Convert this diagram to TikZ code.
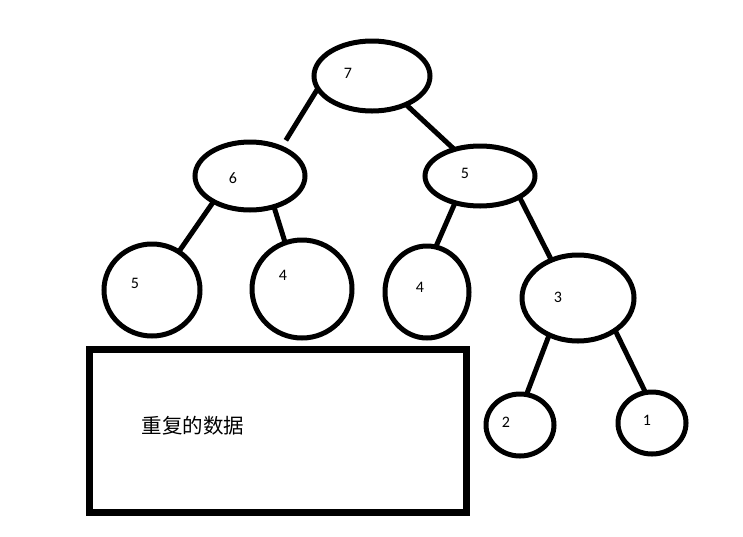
\documentclass[tikz,border=0pt]{standalone}
\usepackage{fontspec}
\setmainfont{Carlito}
\newfontfamily\cjk{Noto Sans CJK SC}
\usetikzlibrary{shapes.geometric}
\begin{document}
\begin{tikzpicture}[x=1pt,y=-1pt,
  oval/.style={ellipse,draw=black,line width=5pt,inner sep=0pt,outer sep=0pt},
  edge/.style={draw=black,line width=5pt},
  num/.style={inner sep=0pt,font=\fontsize{16}{16}\selectfont}]
\useasboundingbox[fill=white] (0,0) rectangle (743,536);
% ellipses
\node[oval,minimum width=116pt,minimum height=70pt] (n7) at (372,76) {};
\node[oval,minimum width=110pt,minimum height=68pt] (n6) at (250,176) {};
\node[oval,minimum width=110pt,minimum height=60pt] (n5r) at (480,176) {};
\node[oval,minimum width=96pt,minimum height=92pt] (n5l) at (152,290) {};
\node[oval,minimum width=100pt,minimum height=98pt] (n4l) at (302,289) {};
\node[oval,minimum width=84pt,minimum height=92pt] (n4m) at (427,292) {};
\node[oval,minimum width=112pt,minimum height=86pt] (n3) at (578,298) {};
\node[oval,minimum width=68pt,minimum height=62pt] (n2) at (520,425) {};
\node[oval,minimum width=68pt,minimum height=62pt] (n1) at (652,423) {};
% labels
\node[num] (t7) at (348,73) {7};
\node[num] (t6) at (233,178) {6};
\node[num] (t5r) at (465,173) {5};
\node[num] (t5l) at (135,283) {5};
\node[num] (t4l) at (283,275) {4};
\node[num] (t4m) at (420,287) {4};
\node[num] (t3) at (558,297) {3};
\node[num] (t2) at (506,422) {2};
\node[num] (t1) at (647,420) {1};
% connectors
\draw[edge,shorten >=9pt] (n7.193) -- (n6.42);
\draw[edge] (n7.-40) -- (n5r.134);
\draw[edge] (n6.215) -- (n5l.55);
\draw[edge] (n6.-52) -- (n4l.110);
\draw[edge] (n5r.227) -- (n4m.79);
\draw[edge] (n5r.-28) -- (n3.125);
\draw[edge] (n3.232) -- (n2.78);
\draw[edge] (n3.-41) -- (n1.102);
% box
\node[draw=black,line width=7pt,inner sep=0pt,outer sep=0pt,minimum width=377pt,minimum height=163pt] (box) at (278,431) {};
\node[inner sep=0pt,font=\cjk\fontsize{20.5}{20.5}\selectfont] (txt) at (193,426) {重复的数据};
\end{tikzpicture}
\end{document}
